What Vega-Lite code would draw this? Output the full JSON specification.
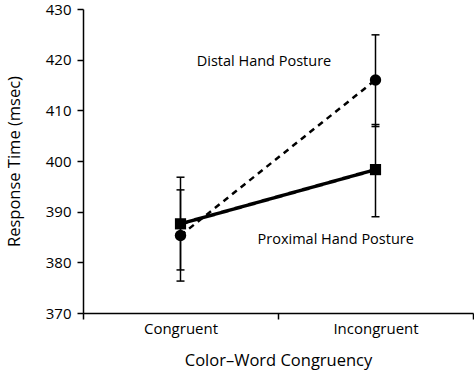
{
  "$schema": "https://vega.github.io/schema/vega-lite/v6.json",
  "width": 390,
  "height": 304,
  "autosize": {"type": "none"},
  "padding": {"left": 83, "top": 9, "right": 1, "bottom": 57},
  "background": "white",
  "config": {
    "view": {"stroke": null},
    "font": "Open Sans",
    "axis": {"grid": false, "domainColor": "black", "tickColor": "black", "domainWidth": 1.5, "tickWidth": 1.5, "labelColor": "black", "titleColor": "black", "labelFont": "Open Sans", "titleFont": "Open Sans", "titleFontWeight": "normal"}
  },
  "datasets": {
    "pts": [
      {"condition": "Congruent", "cx": 0.5, "posture": "Distal", "rt": 385.3, "lo": 376.3, "hi": 394.3},
      {"condition": "Incongruent", "cx": 1.5, "posture": "Distal", "rt": 416.0, "lo": 406.8, "hi": 424.9},
      {"condition": "Congruent", "cx": 0.5, "posture": "Proximal", "rt": 387.6, "lo": 378.5, "hi": 396.8},
      {"condition": "Incongruent", "cx": 1.5, "posture": "Proximal", "rt": 398.3, "lo": 389.0, "hi": 407.2}
    ],
    "labels": [
      {"label": "Distal Hand Posture", "lx": 0.928, "ly": 419.6},
      {"label": "Proximal Hand Posture", "lx": 1.296, "ly": 384.4}
    ]
  },
  "encoding": {
    "x": {
      "type": "quantitative",
      "scale": {"domain": [0, 2], "nice": false, "zero": false},
      "axis": {
        "title": "Color–Word Congruency",
        "values": [0, 1, 2],
        "labelExpr": "datum.value == 0 ? 'Congruent' : datum.value == 1 ? 'Incongruent' : ''",
        "labelOffset": 97.5,
        "labelFlush": false,
        "labelOverlap": false,
        "labelBound": false,
        "labelFontSize": 15,
        "labelPadding": 2,
        "tickSize": 6,
        "titleFontSize": 16.5,
        "titlePadding": 16
      }
    }
  },
  "layer": [
    {
      "data": {"name": "pts"},
      "mark": {"type": "rule", "color": "black", "strokeWidth": 1.5},
      "encoding": {
        "x": {"field": "cx", "type": "quantitative"},
        "y": {
          "field": "lo", "type": "quantitative",
          "scale": {"domain": [370, 430], "nice": false, "zero": false},
          "axis": {"title": "Response Time (msec)", "values": [370, 380, 390, 400, 410, 420, 430], "labelFontSize": 15, "labelPadding": 6, "tickSize": 6, "titleFontSize": 16.5, "titlePadding": 23}
        },
        "y2": {"field": "hi"}
      }
    },
    {
      "data": {"name": "pts"},
      "mark": {"type": "tick", "orient": "horizontal", "color": "black", "size": 8, "thickness": 1.5, "opacity": 1},
      "encoding": {
        "x": {"field": "cx", "type": "quantitative"},
        "y": {"field": "lo", "type": "quantitative"}
      }
    },
    {
      "data": {"name": "pts"},
      "mark": {"type": "tick", "orient": "horizontal", "color": "black", "size": 8, "thickness": 1.5, "opacity": 1},
      "encoding": {
        "x": {"field": "cx", "type": "quantitative"},
        "y": {"field": "hi", "type": "quantitative"}
      }
    },
    {
      "data": {"name": "pts"},
      "mark": {"type": "line", "color": "black"},
      "encoding": {
        "x": {"field": "cx", "type": "quantitative"},
        "y": {"field": "rt", "type": "quantitative"},
        "detail": {"field": "posture"},
        "strokeDash": {"field": "posture", "type": "nominal", "scale": {"domain": ["Distal", "Proximal"], "range": [[6, 5], [1, 0]]}, "legend": null},
        "strokeWidth": {"field": "posture", "type": "nominal", "scale": {"domain": ["Distal", "Proximal"], "range": [2.5, 3.5]}, "legend": null}
      }
    },
    {
      "data": {"name": "pts"},
      "mark": {"type": "point", "filled": true, "opacity": 1, "color": "black"},
      "encoding": {
        "x": {"field": "cx", "type": "quantitative"},
        "y": {"field": "rt", "type": "quantitative"},
        "shape": {"field": "posture", "type": "nominal", "scale": {"domain": ["Distal", "Proximal"], "range": ["circle", "square"]}, "legend": null},
        "size": {"field": "posture", "type": "nominal", "scale": {"domain": ["Distal", "Proximal"], "range": [130, 125]}, "legend": null}
      }
    },
    {
      "data": {"name": "labels"},
      "mark": {"type": "text", "font": "Open Sans", "fontSize": 14.5, "color": "black", "align": "center", "baseline": "middle"},
      "encoding": {
        "x": {"field": "lx", "type": "quantitative"},
        "y": {"field": "ly", "type": "quantitative"},
        "text": {"field": "label"}
      }
    }
  ]
}
